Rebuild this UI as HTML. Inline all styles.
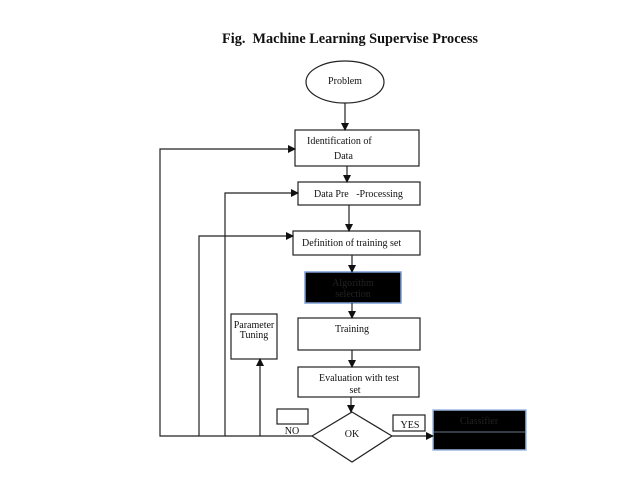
<!DOCTYPE html>
<html><head><meta charset="utf-8"><style>
html,body{margin:0;padding:0;background:#fff;}
svg{display:block;}
text{font-family:"Liberation Serif",serif;fill:#111;white-space:pre;}
</style></head><body>
<svg width="638" height="478" viewBox="0 0 638 478" xmlns="http://www.w3.org/2000/svg">
<defs>
<marker id="a" markerWidth="8" markerHeight="8" refX="7" refY="4" orient="auto" markerUnits="userSpaceOnUse">
<path d="M0,0 L8,4 L0,8 z" fill="#111"/>
</marker>
</defs>
<g stroke="#222" stroke-width="1.2" fill="none">
<text x="222" y="43" font-size="14.5" font-weight="bold" stroke="none" textLength="256" lengthAdjust="spacingAndGlyphs">Fig.  Machine Learning Supervise Process</text>
<ellipse cx="345" cy="82" rx="39" ry="21" fill="#fff"/>
<rect x="295" y="130" width="124" height="36" fill="#fff"/>
<rect x="298" y="182" width="122" height="23" fill="#fff"/>
<rect x="293" y="231" width="127" height="24" fill="#fff"/>
<rect x="305" y="272" width="96" height="31" fill="#000" stroke="#7a9fd6" stroke-width="1.5"/>
<rect x="298" y="318" width="122" height="32" fill="#fff"/>
<rect x="231" y="314" width="46" height="45" fill="#fff"/>
<rect x="298" y="367" width="121" height="30" fill="#fff"/>
<polygon points="352,412 392,436 352,462 312,436" fill="#fff"/>
<rect x="277" y="409" width="31" height="15" fill="#fff"/>
<rect x="393" y="415" width="32" height="16" fill="#fff"/>
<rect x="433" y="410" width="93" height="40" fill="#000" stroke="#9bb8e0" stroke-width="1.5"/>
<line x1="434" y1="432" x2="525" y2="432" stroke="#8aa0c0" stroke-width="0.8"/>
<line x1="345" y1="103" x2="345" y2="130" marker-end="url(#a)"/>
<line x1="347" y1="166" x2="347" y2="182" marker-end="url(#a)"/>
<line x1="349" y1="205" x2="349" y2="231" marker-end="url(#a)"/>
<line x1="352" y1="255" x2="352" y2="272" marker-end="url(#a)"/>
<line x1="352" y1="303" x2="352" y2="318" marker-end="url(#a)"/>
<line x1="352" y1="350" x2="352" y2="367" marker-end="url(#a)"/>
<line x1="351" y1="397" x2="351" y2="412" marker-end="url(#a)"/>
<polyline points="312,436 160,436 160,149 295,149" marker-end="url(#a)"/>
<polyline points="225,436 225,193 298,193" marker-end="url(#a)"/>
<polyline points="199,436 199,236 293,236" marker-end="url(#a)"/>
<line x1="260" y1="436" x2="260" y2="359" marker-end="url(#a)"/>
<line x1="392" y1="436" x2="433" y2="436" marker-end="url(#a)"/>
</g>
<g font-size="10">
<text x="345" y="84" text-anchor="middle">Problem</text>
<text x="307" y="144">Identification of</text>
<text x="334" y="159">Data</text>
<text x="314" y="197">Data Pre   -Processing</text>
<text x="302" y="246">Definition of training set</text>
<text x="353" y="286" text-anchor="middle" style="fill:#222">Algorithm</text>
<text x="353" y="297" text-anchor="middle" style="fill:#222">selection</text>
<text x="352" y="332" text-anchor="middle">Training</text>
<text x="254" y="328" text-anchor="middle">Parameter</text>
<text x="254" y="338" text-anchor="middle">Tuning</text>
<text x="359" y="381" text-anchor="middle">Evaluation with test</text>
<text x="355" y="393" text-anchor="middle">set</text>
<text x="352" y="437" text-anchor="middle">OK</text>
<text x="292" y="434" text-anchor="middle">NO</text>
<text x="410" y="428" text-anchor="middle">YES</text>
<text x="479" y="424" text-anchor="middle" style="fill:#222">Classifier</text>
</g>
</svg>
</body></html>
